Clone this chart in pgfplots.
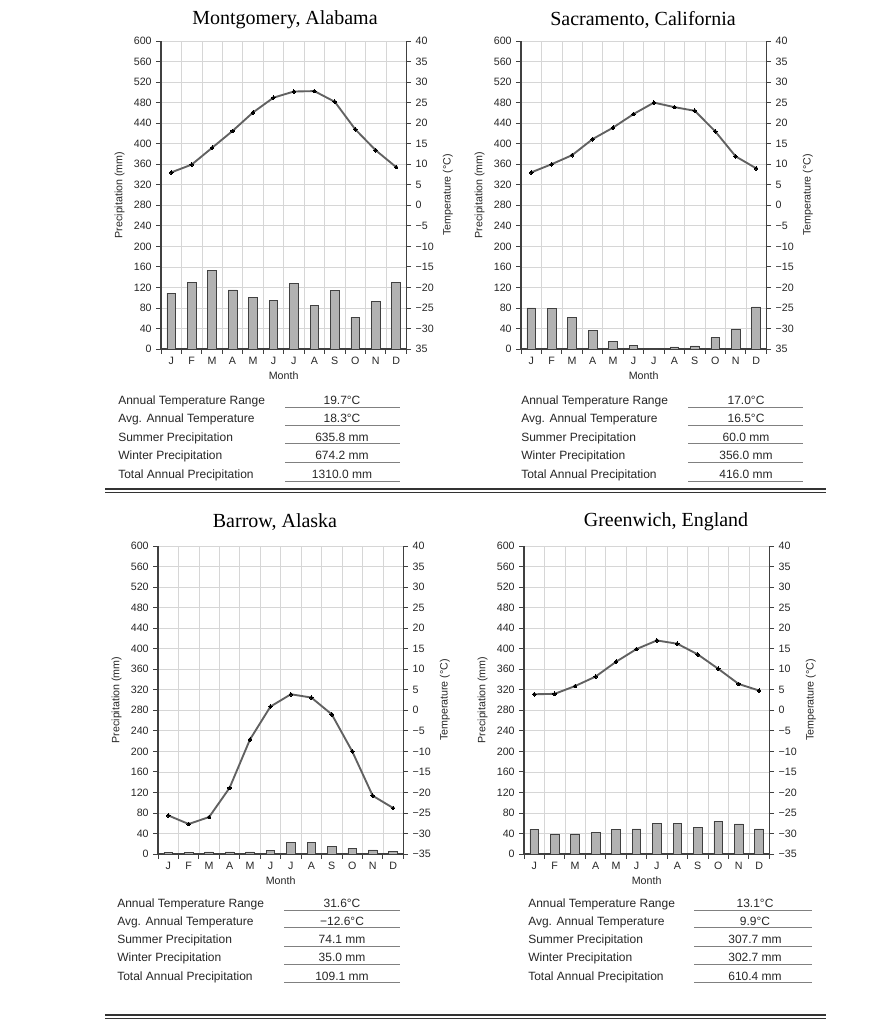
\documentclass[border=0pt]{standalone}
\usepackage{pgfplots}
\pgfplotsset{compat=1.18}
\usepackage{fontspec}
\setmainfont{Liberation Sans}
\newfontfamily\titlefont{Liberation Serif}

\pgfplotsset{
  climbase/.style={
    scale only axis, width=184pt, height=231pt,
    xmin=0.5, xmax=12.5, anchor=south west,
    tick align=outside, major tick length=3.5pt,
    tick style={draw=black!75, line width=0.6pt},
    ticklabel style={font=\fontsize{8}{9}\selectfont, text=black!85},
    label style={font=\fontsize{8}{9}\selectfont, text=black!85},
    axis line style={-, draw=black!75, line width=0.9pt},
  },
  precip/.style={climbase, ymin=0, ymax=600,
    axis x line*=bottom, axis y line*=left,
    ytick={0,40,...,600},
    xtick={0.5,1.5,...,12.5}, xticklabels={},
    grid=major, major grid style={draw=black!16, line width=0.5pt},
    extra x ticks={1,2,3,4,5,6,7,8,9,10,11,12},
    extra x tick labels={J,F,M,A,M,J,J,A,S,O,N,D},
    extra x tick style={grid=none, major tick length=0pt},
    xticklabel style={yshift=-2.5pt},
    xlabel={Month}, xlabel style={yshift=5pt},
    ylabel={Precipitation (mm)},
    /pgf/number format/assume math mode=true,
    ybar, bar width=6.5pt,
  },
  temp/.style={climbase, ymin=-35, ymax=40,
    axis x line=none, axis y line*=right,
    ytick={-35,-30,...,40},
    ylabel={Temperature (°C)},
  },
  tempA/.style={temp, yticklabels={35,−30,−25,−20,−15,−10,−5,0,5,10,15,20,25,30,35,40}},
  tempB/.style={temp, yticklabels={−35,−30,−25,−20,−15,−10,−5,0,5,10,15,20,25,30,35,40}},
  barst/.style={fill=black!30, draw=black!75, line width=0.5pt},
  tline/.style={draw=black!62, line width=1.4pt, mark=*, mark size=1.4pt,
    mark options={fill=black, draw=black, line width=0pt}},
}

\tikzset{tabfont/.style={font=\fontsize{9}{10}\selectfont, text=black!85}}
\newcommand{\trow}[7]{%
  \node[anchor=base west, tabfont, inner sep=0] at (#1*0.75pt,-#3*0.75pt) {#4};
  \node[anchor=base, tabfont, inner sep=0] at (#2*0.75pt,-#3*0.75pt) {#5};
  \draw[black!50, line width=0.5pt] (#6*0.75pt,-#3*0.75pt-2.8*0.75pt) -- (#7*0.75pt,-#3*0.75pt-2.8*0.75pt);}

\begin{document}
\begin{tikzpicture}
\path[use as bounding box] (0,0) rectangle (657.75pt,-768pt);

% ---------------- Montgomery ----------------
\node[font=\titlefont\fontsize{15}{17}\selectfont] at (285*0.75pt,-20*0.75pt) {Montgomery, Alabama};
\begin{axis}[precip, at={(161*0.75pt,-349*0.75pt)}]
\addplot[barst] coordinates {(1,109) (2,129) (3,153) (4,115) (5,101) (6,95) (7,127) (8,85) (9,114) (10,62) (11,93) (12,129)};
\end{axis}
\begin{axis}[tempA, at={(161*0.75pt,-349*0.75pt)}]
\addplot[tline] coordinates {(1,8.0) (2,9.9) (3,14.0) (4,18.1) (5,22.6) (6,26.2) (7,27.7) (8,27.8) (9,25.2) (10,18.5) (11,13.4) (12,9.3)};
\end{axis}

% ---------------- Sacramento ----------------
\node[font=\titlefont\fontsize{15}{17}\selectfont] at (643*0.75pt,-20*0.75pt) {Sacramento, California};
\begin{axis}[precip, at={(521*0.75pt,-349*0.75pt)}]
\addplot[barst] coordinates {(1,80) (2,79) (3,62) (4,36) (5,15) (6,7) (7,0) (8,4) (9,6) (10,22) (11,39) (12,82)};
\end{axis}
\begin{axis}[tempA, at={(521*0.75pt,-349*0.75pt)}]
\addplot[tline] coordinates {(1,8.0) (2,10.0) (3,12.2) (4,16.1) (5,18.9) (6,22.2) (7,25.0) (8,23.9) (9,23.0) (10,18.0) (11,11.9) (12,9.0)};
\end{axis}

% ---------------- Barrow ----------------
\node[font=\titlefont\fontsize{15}{17}\selectfont] at (275*0.75pt,-522*0.75pt) {Barrow, Alaska};
\begin{axis}[precip, at={(158*0.75pt,-854*0.75pt)}]
\addplot[barst] coordinates {(1,3) (2,3) (3,4) (4,4) (5,4) (6,7) (7,23) (8,22) (9,14.5) (10,11.5) (11,8) (12,5.5)};
\end{axis}
\begin{axis}[tempB, at={(158*0.75pt,-854*0.75pt)}]
\addplot[tline] coordinates {(1,-25.6) (2,-27.7) (3,-26.0) (4,-18.9) (5,-7.1) (6,0.9) (7,3.9) (8,3.1) (9,-1.0) (10,-10.0) (11,-20.8) (12,-23.8)};
\end{axis}

% ---------------- Greenwich ----------------
\node[font=\titlefont\fontsize{15}{17}\selectfont] at (666*0.75pt,-522*0.75pt) {Greenwich, England};
\begin{axis}[precip, at={(524*0.75pt,-854*0.75pt)}]
\addplot[barst] coordinates {(1,48.5) (2,38.5) (3,39) (4,42) (5,47.5) (6,49) (7,59) (8,59) (9,51) (10,63.5) (11,58.5) (12,49)};
\end{axis}
\begin{axis}[tempB, at={(524*0.75pt,-854*0.75pt)}]
\addplot[tline] coordinates {(1,3.9) (2,4.0) (3,5.9) (4,8.2) (5,11.8) (6,14.9) (7,17.0) (8,16.2) (9,13.6) (10,10.1) (11,6.4) (12,4.8)};
\end{axis}

% ---------------- Tables ----------------
\trow{118}{342}{404.3}{Annual Temperature Range}{19.7°C}{285}{400}
\trow{118}{342}{422.6}{Avg. Annual Temperature}{18.3°C}{285}{400}
\trow{118}{342}{441}{Summer Precipitation}{635.8 mm}{285}{400}
\trow{118}{342}{459.3}{Winter Precipitation}{674.2 mm}{285}{400}
\trow{118}{342}{478.6}{Total Annual Precipitation}{1310.0 mm}{285}{400}

\trow{521}{746}{404.3}{Annual Temperature Range}{17.0°C}{688}{803}
\trow{521}{746}{422.6}{Avg. Annual Temperature}{16.5°C}{688}{803}
\trow{521}{746}{441}{Summer Precipitation}{60.0 mm}{688}{803}
\trow{521}{746}{459.3}{Winter Precipitation}{356.0 mm}{688}{803}
\trow{521}{746}{478.6}{Total Annual Precipitation}{416.0 mm}{688}{803}

\trow{117}{342}{907.6}{Annual Temperature Range}{31.6°C}{284}{400}
\trow{117}{342}{925}{Avg. Annual Temperature}{−12.6°C}{284}{400}
\trow{117}{342}{943.6}{Summer Precipitation}{74.1 mm}{284}{400}
\trow{117}{342}{961.6}{Winter Precipitation}{35.0 mm}{284}{400}
\trow{117}{342}{980}{Total Annual Precipitation}{109.1 mm}{284}{400}

\trow{528}{755}{907.6}{Annual Temperature Range}{13.1°C}{694}{812}
\trow{528}{755}{925}{Avg. Annual Temperature}{9.9°C}{694}{812}
\trow{528}{755}{943.6}{Summer Precipitation}{307.7 mm}{694}{812}
\trow{528}{755}{961.6}{Winter Precipitation}{302.7 mm}{694}{812}
\trow{528}{755}{980}{Total Annual Precipitation}{610.4 mm}{694}{812}

% ---------------- Double rules ----------------
\draw[black!80, line width=1.3pt] (105*0.75pt,-489*0.75pt) -- (826*0.75pt,-489*0.75pt);
\draw[black!80, line width=0.6pt] (105*0.75pt,-492.5*0.75pt) -- (826*0.75pt,-492.5*0.75pt);
\draw[black!80, line width=1.3pt] (105*0.75pt,-1015*0.75pt) -- (826*0.75pt,-1015*0.75pt);
\draw[black!80, line width=0.6pt] (105*0.75pt,-1018.5*0.75pt) -- (826*0.75pt,-1018.5*0.75pt);
\end{tikzpicture}
\end{document}
